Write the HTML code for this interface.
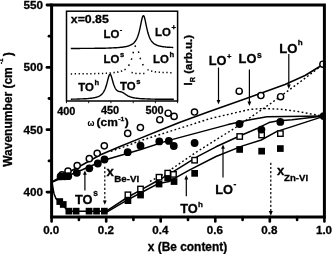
<!DOCTYPE html>
<html><head><meta charset="utf-8"><title>Wavenumber vs Be content</title>
<style>html,body{margin:0;padding:0;background:#fff}svg{display:block;filter:blur(0.4px)}text{font-family:"Liberation Sans",sans-serif;font-weight:bold;fill:#000;stroke:#000;stroke-width:0.3px}</style></head><body>
<svg width="332" height="254" viewBox="0 0 332 254">
<rect width="332" height="254" fill="#fff"/>
<clipPath id="pc"><rect x="51.6" y="5.0" width="274.0" height="212.0"/></clipPath>
<g clip-path="url(#pc)">
<path d="M52.0,182.0 L70.0,171.5 L83.0,164.5 L100.0,155.0 L120.0,146.5 L140.0,138.4 L160.0,130.2 L180.0,122.2 L208.0,112.0 L249.0,97.5 L285.0,84.5 L305.0,75.5 L323.0,64.5" fill="none" stroke="#000" stroke-width="1.5" stroke-linejoin="round"/>
<path d="M52.0,182.0 L76.0,172.5 L104.7,160.0 L140.0,149.8 L168.0,140.6 L228.0,124.6 L250.0,119.8 L267.0,116.8 L323.5,116.0" fill="none" stroke="#000" stroke-width="1.5" stroke-linejoin="round"/>
<path d="M105.5,211.3 L107.5,210.4 L128.0,197.0 L140.5,190.2 L158.8,180.0 L170.0,173.6 L176.6,169.6 L198.3,156.2 L216.0,146.8 L239.6,136.0 L257.7,128.2 L264.9,124.6 L269.0,122.6 L277.0,121.0 L292.0,119.8 L323.5,116.0" fill="none" stroke="#000" stroke-width="1.5" stroke-linejoin="round"/>
<path d="M105.5,212.0 L107.5,211.6 L128.0,199.6 L140.5,193.0 L158.8,183.4 L169.3,181.4 L181.2,174.7 L189.3,170.2 L216.0,156.5 L242.6,145.9 L261.3,140.0 L277.0,131.4 L292.0,126.6 L323.5,116.4" fill="none" stroke="#000" stroke-width="1.5" stroke-linejoin="round"/>
<path d="M52.0,182.0 L52.9,188.0 L54.1,194.0 L56.0,198.6 L59.7,202.0 L63.5,205.5 L66.0,209.0 L69.0,211.2 L107.0,211.3" fill="none" stroke="#000" stroke-width="1.5" stroke-linejoin="round"/>
<path d="M110.8,151.4 L125.0,146.5 L140.0,140.8 L160.0,134.5 L180.0,128.2 L210.0,118.6 L250.0,109.4 L264.0,108.5 L280.0,109.2 L296.9,111.3 L312.3,114.2 L323.0,116.0" fill="none" stroke="#000" stroke-width="1.4" stroke-dasharray="1.8 2.4"/>
<path d="M150.0,181.4 L165.0,173.5 L196.0,152.3 L234.5,128.3 L270.0,104.0 L300.0,82.0 L322.5,65.0" fill="none" stroke="#000" stroke-width="1.4" stroke-dasharray="1.8 2.4"/>
<rect x="56.4" y="198.2" width="6.7" height="6.7" fill="#000"/>
<rect x="59.9" y="201.1" width="6.7" height="6.7" fill="#000"/>
<rect x="65.5" y="207.8" width="6.7" height="6.7" fill="#000"/>
<rect x="72.8" y="207.8" width="6.7" height="6.7" fill="#000"/>
<rect x="85.7" y="207.8" width="6.7" height="6.7" fill="#000"/>
<rect x="93.2" y="207.8" width="6.7" height="6.7" fill="#000"/>
<rect x="101.0" y="207.8" width="6.7" height="6.7" fill="#000"/>
<rect x="124.6" y="197.3" width="6.7" height="6.7" fill="#000"/>
<rect x="137.2" y="191.7" width="6.7" height="6.7" fill="#000"/>
<rect x="155.7" y="180.7" width="6.7" height="6.7" fill="#000"/>
<rect x="164.3" y="174.5" width="6.7" height="6.7" fill="#000"/>
<rect x="170.7" y="178.2" width="6.7" height="6.7" fill="#000"/>
<rect x="191.3" y="170.0" width="6.7" height="6.7" fill="#000"/>
<rect x="236.3" y="146.1" width="6.7" height="6.7" fill="#000"/>
<rect x="258.3" y="147.8" width="6.7" height="6.7" fill="#000"/>
<rect x="277.0" y="145.2" width="6.7" height="6.7" fill="#000"/>
<rect x="125.2" y="192.1" width="5.4" height="5.4" fill="#fff" stroke="#000" stroke-width="1.4"/>
<rect x="137.8" y="186.3" width="5.4" height="5.4" fill="#fff" stroke="#000" stroke-width="1.4"/>
<rect x="156.3" y="174.5" width="5.4" height="5.4" fill="#fff" stroke="#000" stroke-width="1.4"/>
<rect x="165.0" y="170.4" width="5.4" height="5.4" fill="#fff" stroke="#000" stroke-width="1.4"/>
<rect x="170.8" y="171.7" width="5.4" height="5.4" fill="#fff" stroke="#000" stroke-width="1.4"/>
<rect x="191.9" y="157.5" width="5.4" height="5.4" fill="#fff" stroke="#000" stroke-width="1.4"/>
<rect x="237.0" y="133.8" width="5.4" height="5.4" fill="#fff" stroke="#000" stroke-width="1.4"/>
<rect x="258.9" y="132.3" width="5.4" height="5.4" fill="#fff" stroke="#000" stroke-width="1.4"/>
<rect x="277.7" y="130.9" width="5.4" height="5.4" fill="#fff" stroke="#000" stroke-width="1.4"/>
<circle cx="62.0" cy="174.8" r="3.1" fill="#fff" stroke="#000" stroke-width="1.45"/>
<circle cx="68.0" cy="171.0" r="3.1" fill="#fff" stroke="#000" stroke-width="1.45"/>
<circle cx="77.2" cy="165.6" r="3.1" fill="#fff" stroke="#000" stroke-width="1.45"/>
<circle cx="89.3" cy="158.7" r="3.1" fill="#fff" stroke="#000" stroke-width="1.45"/>
<circle cx="97.2" cy="153.3" r="3.1" fill="#fff" stroke="#000" stroke-width="1.45"/>
<circle cx="104.3" cy="145.8" r="3.1" fill="#fff" stroke="#000" stroke-width="1.45"/>
<circle cx="127.7" cy="133.4" r="3.1" fill="#fff" stroke="#000" stroke-width="1.45"/>
<circle cx="140.4" cy="127.5" r="3.1" fill="#fff" stroke="#000" stroke-width="1.45"/>
<circle cx="159.8" cy="119.7" r="3.1" fill="#fff" stroke="#000" stroke-width="1.45"/>
<circle cx="168.2" cy="113.2" r="3.1" fill="#fff" stroke="#000" stroke-width="1.45"/>
<circle cx="174.1" cy="116.4" r="3.1" fill="#fff" stroke="#000" stroke-width="1.45"/>
<circle cx="194.5" cy="112.0" r="3.1" fill="#fff" stroke="#000" stroke-width="1.45"/>
<circle cx="239.2" cy="91.2" r="3.1" fill="#fff" stroke="#000" stroke-width="1.45"/>
<circle cx="260.9" cy="95.5" r="3.1" fill="#fff" stroke="#000" stroke-width="1.45"/>
<circle cx="280.6" cy="96.7" r="3.1" fill="#fff" stroke="#000" stroke-width="1.45"/>
<circle cx="322.9" cy="64.2" r="3.1" fill="#fff" stroke="#000" stroke-width="1.45"/>
<circle cx="60.6" cy="176.4" r="3.9" fill="#000"/>
<circle cx="64.5" cy="176.3" r="3.9" fill="#000"/>
<circle cx="68.2" cy="176.2" r="3.9" fill="#000"/>
<circle cx="76.8" cy="172.8" r="3.9" fill="#000"/>
<circle cx="89.3" cy="168.3" r="3.9" fill="#000"/>
<circle cx="97.8" cy="163.5" r="3.9" fill="#000"/>
<circle cx="104.5" cy="159.5" r="3.9" fill="#000"/>
<circle cx="127.7" cy="152.2" r="3.9" fill="#000"/>
<circle cx="140.5" cy="145.7" r="3.9" fill="#000"/>
<circle cx="159.3" cy="141.4" r="3.9" fill="#000"/>
<circle cx="168.8" cy="140.9" r="3.9" fill="#000"/>
<circle cx="173.8" cy="146.0" r="3.9" fill="#000"/>
<circle cx="194.6" cy="143.0" r="3.9" fill="#000"/>
<circle cx="239.5" cy="124.0" r="3.9" fill="#000"/>
<circle cx="261.4" cy="129.6" r="3.9" fill="#000"/>
<circle cx="280.3" cy="121.9" r="3.9" fill="#000"/>
<circle cx="323.6" cy="116.1" r="3.9" fill="#000"/>
</g>
<line x1="218.5" y1="67.5" x2="218.5" y2="101.7" stroke="#000" stroke-width="1.2"/>
<path d="M216.6,99.9 L218.5,104.3 L220.4,99.9 Z" fill="#000"/>
<line x1="249.4" y1="69.5" x2="249.4" y2="103.4" stroke="#000" stroke-width="1.2"/>
<path d="M247.5,101.6 L249.4,106.0 L251.3,101.6 Z" fill="#000"/>
<line x1="288.8" y1="54" x2="288.8" y2="86.4" stroke="#000" stroke-width="1.2"/>
<path d="M286.9,84.6 L288.8,89.0 L290.7,84.6 Z" fill="#000"/>
<line x1="223.0" y1="177.5" x2="223.0" y2="147.0" stroke="#000" stroke-width="1.2"/>
<path d="M221.1,148.8 L223.0,144.4 L224.9,148.8 Z" fill="#000"/>
<line x1="186.3" y1="196.3" x2="186.3" y2="177.6" stroke="#000" stroke-width="1.2"/>
<path d="M184.4,179.4 L186.3,175.0 L188.2,179.4 Z" fill="#000"/>
<line x1="84.9" y1="190.4" x2="84.9" y2="173.0" stroke="#000" stroke-width="1.2"/>
<path d="M83.0,174.8 L84.9,170.4 L86.8,174.8 Z" fill="#000"/>
<line x1="104.8" y1="166.8" x2="104.8" y2="202.2" stroke="#000" stroke-width="1.2" stroke-dasharray="2.2 2.0"/>
<path d="M102.9,200.4 L104.8,204.8 L106.7,200.4 Z" fill="#000"/>
<line x1="270.8" y1="162.7" x2="270.8" y2="212.9" stroke="#000" stroke-width="1.2" stroke-dasharray="2.2 2.0"/>
<path d="M268.8,211.0 L270.8,215.8 L272.8,211.0 Z" fill="#000"/>
<rect x="51.6" y="5.0" width="272.79999999999995" height="212.0" fill="none" stroke="#000" stroke-width="3.0"/>
<line x1="47.0" y1="192.1" x2="51.6" y2="192.1" stroke="#000" stroke-width="2.8" stroke-linecap="round"/>
<line x1="49.0" y1="160.9" x2="51.6" y2="160.9" stroke="#000" stroke-width="2.8" stroke-linecap="round"/>
<line x1="47.0" y1="129.7" x2="51.6" y2="129.7" stroke="#000" stroke-width="2.8" stroke-linecap="round"/>
<line x1="49.0" y1="98.5" x2="51.6" y2="98.5" stroke="#000" stroke-width="2.8" stroke-linecap="round"/>
<line x1="47.0" y1="67.4" x2="51.6" y2="67.4" stroke="#000" stroke-width="2.8" stroke-linecap="round"/>
<line x1="49.0" y1="36.2" x2="51.6" y2="36.2" stroke="#000" stroke-width="2.8" stroke-linecap="round"/>
<line x1="47.0" y1="5.0" x2="51.6" y2="5.0" stroke="#000" stroke-width="2.8" stroke-linecap="round"/>
<line x1="51.6" y1="217.0" x2="51.6" y2="221.4" stroke="#000" stroke-width="2.6" stroke-linecap="round"/>
<line x1="78.9" y1="217.0" x2="78.9" y2="220.0" stroke="#000" stroke-width="2.6" stroke-linecap="round"/>
<line x1="106.2" y1="217.0" x2="106.2" y2="221.4" stroke="#000" stroke-width="2.6" stroke-linecap="round"/>
<line x1="133.4" y1="217.0" x2="133.4" y2="220.0" stroke="#000" stroke-width="2.6" stroke-linecap="round"/>
<line x1="160.7" y1="217.0" x2="160.7" y2="221.4" stroke="#000" stroke-width="2.6" stroke-linecap="round"/>
<line x1="188.0" y1="217.0" x2="188.0" y2="220.0" stroke="#000" stroke-width="2.6" stroke-linecap="round"/>
<line x1="215.3" y1="217.0" x2="215.3" y2="221.4" stroke="#000" stroke-width="2.6" stroke-linecap="round"/>
<line x1="242.6" y1="217.0" x2="242.6" y2="220.0" stroke="#000" stroke-width="2.6" stroke-linecap="round"/>
<line x1="269.8" y1="217.0" x2="269.8" y2="221.4" stroke="#000" stroke-width="2.6" stroke-linecap="round"/>
<line x1="297.1" y1="217.0" x2="297.1" y2="220.0" stroke="#000" stroke-width="2.6" stroke-linecap="round"/>
<line x1="324.4" y1="217.0" x2="324.4" y2="221.4" stroke="#000" stroke-width="2.6" stroke-linecap="round"/>
<text x="43.1" y="196.0" font-size="11.7" text-anchor="end">400</text>
<text x="43.1" y="133.6" font-size="11.7" text-anchor="end">450</text>
<text x="43.1" y="71.3" font-size="11.7" text-anchor="end">500</text>
<text x="43.1" y="8.9" font-size="11.7" text-anchor="end">550</text>
<text x="51.2" y="233.9" font-size="11.6" text-anchor="middle">0.0</text>
<text x="105.8" y="233.9" font-size="11.6" text-anchor="middle">0.2</text>
<text x="160.3" y="233.9" font-size="11.6" text-anchor="middle">0.4</text>
<text x="214.9" y="233.9" font-size="11.6" text-anchor="middle">0.6</text>
<text x="269.4" y="233.9" font-size="11.6" text-anchor="middle">0.8</text>
<text x="324.0" y="233.9" font-size="11.6" text-anchor="middle">1.0</text>
<text x="187.5" y="251.0" font-size="11.9" text-anchor="middle">x (Be content)</text>
<text transform="translate(12.4,166.8) rotate(-90)" font-size="12">Wavenumber (cm<tspan font-size="6.4" dx="3.2" dy="-9.0">-1</tspan><tspan dx="2" dy="9.0">)</tspan></text>
<text x="208.8" y="64.7" font-size="12.8">LO<tspan font-size="7.6" dx="0.3" dy="-5.4">+</tspan></text>
<text x="238.6" y="63.2" font-size="12.8">LO<tspan font-size="8.5" dx="0.5" dy="-5.2">s</tspan></text>
<text x="279.3" y="52.6" font-size="13.1">LO<tspan font-size="8.0" dx="0.2" dy="-7.4">h</tspan></text>
<text x="215.3" y="194.0" font-size="12.8">LO<tspan font-size="8.5" dx="0.3" dy="-7.0">-</tspan></text>
<text x="180.2" y="213.2" font-size="12.8">TO<tspan font-size="8.0" dx="0.3" dy="-6.5">h</tspan></text>
<text x="75.0" y="203.5" font-size="12.8">TO<tspan font-size="8.3" dx="0.8" dy="-7.8">s</tspan></text>
<text transform="translate(106.6,176.2) scale(1.06,1)" font-size="12.4">x</text>
<text transform="translate(114.3,182.1) scale(1.05,1)" font-size="9.3">Be-VI</text>
<text transform="translate(277.0,175.4) scale(1.06,1)" font-size="12.4">x</text>
<text transform="translate(284.0,181.2) scale(1.04,1)" font-size="9.3">Zn-VI</text>
<rect x="66.5" y="11.2" width="111.1" height="89.8" fill="#fff" stroke="#000" stroke-width="1.5"/>
<line x1="66.5" y1="101.0" x2="66.5" y2="103.2" stroke="#000" stroke-width="0.9"/>
<line x1="88.7" y1="101.0" x2="88.7" y2="103.2" stroke="#000" stroke-width="0.9"/>
<line x1="110.9" y1="101.0" x2="110.9" y2="103.2" stroke="#000" stroke-width="0.9"/>
<line x1="133.2" y1="101.0" x2="133.2" y2="103.2" stroke="#000" stroke-width="0.9"/>
<line x1="155.4" y1="101.0" x2="155.4" y2="103.2" stroke="#000" stroke-width="0.9"/>
<line x1="177.6" y1="101.0" x2="177.6" y2="103.2" stroke="#000" stroke-width="0.9"/>
<path d="M70.8,48.5 L71.3,48.5 L71.8,48.5 L72.3,48.5 L72.8,48.5 L73.3,48.5 L73.8,48.5 L74.3,48.5 L74.8,48.5 L75.3,48.5 L75.8,48.5 L76.3,48.5 L76.8,48.5 L77.3,48.5 L77.8,48.5 L78.3,48.5 L78.8,48.5 L79.3,48.5 L79.8,48.5 L80.3,48.4 L80.8,48.4 L81.3,48.4 L81.8,48.4 L82.3,48.4 L82.8,48.4 L83.3,48.4 L83.8,48.4 L84.3,48.4 L84.8,48.4 L85.3,48.4 L85.8,48.4 L86.3,48.4 L86.8,48.4 L87.3,48.4 L87.8,48.4 L88.3,48.4 L88.8,48.4 L89.3,48.4 L89.8,48.4 L90.3,48.4 L90.8,48.4 L91.3,48.4 L91.8,48.4 L92.3,48.4 L92.8,48.4 L93.3,48.4 L93.8,48.4 L94.3,48.4 L94.8,48.3 L95.3,48.3 L95.8,48.3 L96.3,48.3 L96.8,48.3 L97.3,48.3 L97.8,48.3 L98.3,48.3 L98.8,48.3 L99.3,48.3 L99.8,48.3 L100.3,48.3 L100.8,48.3 L101.3,48.3 L101.8,48.2 L102.3,48.2 L102.8,48.2 L103.3,48.2 L103.8,48.2 L104.3,48.2 L104.8,48.2 L105.3,48.2 L105.8,48.1 L106.3,48.1 L106.8,48.1 L107.3,48.1 L107.8,48.1 L108.3,48.1 L108.8,48.0 L109.3,48.0 L109.8,48.0 L110.3,48.0 L110.8,48.0 L111.3,48.0 L111.8,47.9 L112.3,47.9 L112.8,47.9 L113.3,47.9 L113.8,47.8 L114.3,47.8 L114.8,47.8 L115.3,47.8 L115.8,47.7 L116.3,47.7 L116.8,47.7 L117.3,47.6 L117.8,47.6 L118.3,47.6 L118.8,47.5 L119.3,47.5 L119.8,47.4 L120.3,47.4 L120.8,47.3 L121.3,47.3 L121.8,47.2 L122.3,47.2 L122.8,47.1 L123.3,47.0 L123.8,47.0 L124.3,46.9 L124.8,46.8 L125.3,46.7 L125.8,46.6 L126.3,46.5 L126.8,46.4 L127.3,46.3 L127.8,46.1 L128.3,46.0 L128.8,45.8 L129.3,45.6 L129.8,45.4 L130.3,45.2 L130.8,45.0 L131.3,44.7 L131.8,44.4 L132.3,44.1 L132.8,43.8 L133.3,43.4 L133.8,42.9 L134.3,42.4 L134.8,41.8 L135.3,41.2 L135.8,40.4 L136.3,39.6 L136.8,38.6 L137.3,37.5 L137.8,36.2 L138.3,34.7 L138.8,33.1 L139.3,31.2 L139.8,29.1 L140.3,26.8 L140.8,24.3 L141.3,21.9 L141.8,19.5 L142.3,17.6 L142.8,16.2 L143.3,15.6 L143.8,15.8 L144.3,16.9 L144.8,18.7 L145.3,20.9 L145.8,23.3 L146.3,25.8 L146.8,28.1 L147.3,30.3 L147.8,32.3 L148.3,34.0 L148.8,35.6 L149.3,36.9 L149.8,38.1 L150.3,39.1 L150.8,40.0 L151.3,40.8 L151.8,41.5 L152.3,42.1 L152.8,42.6 L153.3,43.1 L153.8,43.5 L154.3,43.9 L154.8,44.2 L155.3,44.5 L155.8,44.7 L156.3,45.0 L156.8,45.2 L157.3,45.4 L157.8,45.6 L158.3,45.7 L158.8,45.9 L159.3,46.0 L159.8,46.1 L160.3,46.2 L160.8,46.3 L161.3,46.4 L161.8,46.5 L162.3,46.6 L162.8,46.7 L163.3,46.8 L163.8,46.8 L164.3,46.9 L164.8,46.9 L165.3,47.0 L165.8,47.0 L166.3,47.1 L166.8,47.1 L167.3,47.2 L167.8,47.2 L168.3,47.2 L168.8,47.3 L169.3,47.3 L169.8,47.3 L170.3,47.4 L170.8,47.4 L171.3,47.4 L171.8,47.4 L172.3,47.5 L172.8,47.5 L173.3,47.5" fill="none" stroke="#000" stroke-width="1.4" stroke-linejoin="round"/>
<path d="M70.8,73.9 L71.0,73.9 L71.3,73.9 L71.5,73.9 L71.8,73.9 L72.0,73.9 L72.3,73.9 L72.5,73.9 L72.8,73.9 L73.0,73.9 L73.3,73.8 L73.5,73.8 L73.8,73.8 L74.0,73.8 L74.3,73.8 L74.5,73.8 L74.8,73.8 L75.0,73.8 L75.3,73.8 L75.5,73.8 L75.8,73.8 L76.0,73.8 L76.3,73.8 L76.5,73.8 L76.8,73.8 L77.0,73.8 L77.3,73.8 L77.5,73.8 L77.8,73.8 L78.0,73.8 L78.3,73.8 L78.5,73.8 L78.8,73.8 L79.0,73.8 L79.3,73.8 L79.5,73.8 L79.8,73.8 L80.0,73.8 L80.3,73.8 L80.5,73.8 L80.8,73.8 L81.0,73.8 L81.3,73.8 L81.5,73.8 L81.8,73.8 L82.0,73.8 L82.3,73.8 L82.5,73.8 L82.8,73.8 L83.0,73.8 L83.3,73.8 L83.5,73.8 L83.8,73.8 L84.0,73.8 L84.3,73.8 L84.5,73.8 L84.8,73.8 L85.0,73.8 L85.3,73.8 L85.5,73.8 L85.8,73.8 L86.0,73.8 L86.3,73.8 L86.5,73.8 L86.8,73.8 L87.0,73.8 L87.3,73.8 L87.5,73.7 L87.8,73.7 L88.0,73.7 L88.3,73.7 L88.5,73.7 L88.8,73.7 L89.0,73.7 L89.3,73.7 L89.5,73.7 L89.8,73.7 L90.0,73.7 L90.3,73.7 L90.5,73.7 L90.8,73.7 L91.0,73.7 L91.3,73.7 L91.5,73.7 L91.8,73.7 L92.0,73.7 L92.3,73.7 L92.5,73.7 L92.8,73.7 L93.0,73.7 L93.3,73.7 L93.5,73.7 L93.8,73.7 L94.0,73.7 L94.3,73.7 L94.5,73.7 L94.8,73.7 L95.0,73.6 L95.3,73.6 L95.5,73.6 L95.8,73.6 L96.0,73.6 L96.3,73.6 L96.5,73.6 L96.8,73.6 L97.0,73.6 L97.3,73.6 L97.5,73.6 L97.8,73.6 L98.0,73.6 L98.3,73.6 L98.5,73.6 L98.8,73.6 L99.0,73.6 L99.3,73.6 L99.5,73.6 L99.8,73.6 L100.0,73.5 L100.3,73.5 L100.5,73.5 L100.8,73.5 L101.0,73.5 L101.3,73.5 L101.5,73.5 L101.8,73.5 L102.0,73.5 L102.3,73.5 L102.5,73.4 L102.8,73.4 L103.0,73.4 L103.3,73.4 L103.5,73.4 L103.8,73.4 L104.0,73.4 L104.3,73.4 L104.5,73.4 L104.8,73.3 L105.0,73.3 L105.3,73.3 L105.5,73.3 L105.8,73.3 L106.0,73.3 L106.3,73.3 L106.5,73.2 L106.8,73.2 L107.0,73.2 L107.3,73.2 L107.5,73.2 L107.8,73.2 L108.0,73.2 L108.3,73.1 L108.5,73.1 L108.8,73.1 L109.0,73.1 L109.3,73.1 L109.5,73.1 L109.8,73.0 L110.0,73.0 L110.3,73.0 L110.5,73.0 L110.8,73.0 L111.0,72.9 L111.3,72.9 L111.5,72.9 L111.8,72.9 L112.0,72.9 L112.3,72.8 L112.5,72.8 L112.8,72.8 L113.0,72.8 L113.3,72.7 L113.5,72.7 L113.8,72.7 L114.0,72.6 L114.3,72.6 L114.5,72.6 L114.8,72.6 L115.0,72.5 L115.3,72.5 L115.5,72.5 L115.8,72.4 L116.0,72.4 L116.3,72.3 L116.5,72.3 L116.8,72.3 L117.0,72.2 L117.3,72.2 L117.5,72.1 L117.8,72.1 L118.0,72.0 L118.3,72.0 L118.5,71.9 L118.8,71.9 L119.0,71.8 L119.3,71.8 L119.5,71.7 L119.8,71.7 L120.0,71.6 L120.3,71.5 L120.5,71.5 L120.8,71.4 L121.0,71.3 L121.3,71.2 L121.5,71.1 L121.8,71.1 L122.0,71.0 L122.3,70.9 L122.5,70.8 L122.8,70.7 L123.0,70.6 L123.3,70.4 L123.5,70.3 L123.8,70.2 L124.0,70.1 L124.3,69.9 L124.5,69.8 L124.8,69.6 L125.0,69.5 L125.3,69.3 L125.5,69.1 L125.8,68.9 L126.0,68.7 L126.3,68.5 L126.5,68.3 L126.8,68.0" fill="none" stroke="#000" stroke-width="1.5" stroke-dasharray="1.3 2.6"/>
<path d="M128.6,65.8 L128.8,65.4 L129.1,65.0 L129.3,64.5 L129.6,64.0 L129.8,63.5 L130.1,63.0 L130.3,62.4 L130.6,61.8 L130.8,61.1 L131.1,60.4 L131.3,59.7 L131.6,58.9 L131.8,58.1 L132.1,57.2 L132.3,56.3 L132.6,55.4 L132.8,54.4 L133.1,53.4 L133.3,52.4 L133.6,51.4 L133.8,50.4 L134.1,49.5 L134.3,48.6 L134.6,47.8 L134.8,47.0 L135.1,46.4 L135.3,45.9 L135.6,45.6 L135.8,45.4" fill="none" stroke="#000" stroke-width="1.5" stroke-dasharray="1.5 5.2"/>
<path d="M138.4,51.4 L138.7,52.4 L138.9,53.4 L139.2,54.3 L139.4,55.3 L139.7,56.2 L139.9,57.1 L140.2,58.0 L140.4,58.8 L140.7,59.6 L140.9,60.3 L141.2,61.0 L141.4,61.6 L141.7,62.3 L141.9,62.8 L142.2,63.4 L142.4,63.9 L142.7,64.4 L142.9,64.8 L143.2,65.2 L143.4,65.6 L143.7,66.0 L143.9,66.3 L144.2,66.7 L144.4,67.0 L144.7,67.2 L144.9,67.5 L145.2,67.8 L145.4,68.0 L145.7,68.2 L145.9,68.4 L146.2,68.6 L146.4,68.8" fill="none" stroke="#000" stroke-width="1.5" stroke-dasharray="1.5 5.2"/>
<path d="M147.5,69.5 L147.8,69.7 L148.0,69.8 L148.2,69.9 L148.5,70.1 L148.8,70.2 L149.0,70.3 L149.2,70.4 L149.5,70.5 L149.8,70.6 L150.0,70.7 L150.2,70.7 L150.5,70.8 L150.8,70.9 L151.0,71.0 L151.2,71.0 L151.5,71.1 L151.8,71.2 L152.0,71.2 L152.2,71.3 L152.5,71.3 L152.8,71.4 L153.0,71.4 L153.2,71.5 L153.5,71.5 L153.8,71.6 L154.0,71.6 L154.2,71.7 L154.5,71.7 L154.8,71.7 L155.0,71.8 L155.2,71.8 L155.5,71.8 L155.8,71.9 L156.0,71.9 L156.2,71.9 L156.5,72.0 L156.8,72.0 L157.0,72.0 L157.2,72.1 L157.5,72.1 L157.8,72.1 L158.0,72.1 L158.2,72.1 L158.5,72.2 L158.8,72.2 L159.0,72.2 L159.2,72.2 L159.5,72.2 L159.8,72.3 L160.0,72.3 L160.2,72.3 L160.5,72.3 L160.8,72.3 L161.0,72.3 L161.2,72.4 L161.5,72.4 L161.8,72.4 L162.0,72.4 L162.2,72.4 L162.5,72.4 L162.8,72.4 L163.0,72.4 L163.2,72.5 L163.5,72.5 L163.8,72.5 L164.0,72.5 L164.2,72.5 L164.5,72.5 L164.8,72.5 L165.0,72.5 L165.2,72.5 L165.5,72.5 L165.8,72.6 L166.0,72.6 L166.2,72.6 L166.5,72.6 L166.8,72.6 L167.0,72.6 L167.2,72.6 L167.5,72.6 L167.8,72.6 L168.0,72.6 L168.2,72.6 L168.5,72.6 L168.8,72.6 L169.0,72.6 L169.2,72.6 L169.5,72.6 L169.8,72.6 L170.0,72.7 L170.2,72.7 L170.5,72.7 L170.8,72.7 L171.0,72.7 L171.2,72.7 L171.5,72.7 L171.8,72.7 L172.0,72.7 L172.2,72.7 L172.5,72.7" fill="none" stroke="#000" stroke-width="1.5" stroke-dasharray="1.3 2.6"/>
<path d="M131.5,72.6 L136.0,73.4 L146.0,73.6" fill="none" stroke="#000" stroke-width="1.5" stroke-dasharray="1.3 2.6"/>
<path d="M70.8,99.2 L71.3,99.2 L71.8,99.2 L72.3,99.1 L72.8,99.1 L73.3,99.1 L73.8,99.1 L74.3,99.1 L74.8,99.1 L75.3,99.1 L75.8,99.1 L76.3,99.1 L76.8,99.1 L77.3,99.0 L77.8,99.0 L78.3,99.0 L78.8,99.0 L79.3,99.0 L79.8,99.0 L80.3,98.9 L80.8,98.9 L81.3,98.9 L81.8,98.9 L82.3,98.9 L82.8,98.9 L83.3,98.8 L83.8,98.8 L84.3,98.8 L84.8,98.8 L85.3,98.7 L85.8,98.7 L86.3,98.7 L86.8,98.6 L87.3,98.6 L87.8,98.6 L88.3,98.5 L88.8,98.5 L89.3,98.4 L89.8,98.4 L90.3,98.3 L90.8,98.3 L91.3,98.2 L91.8,98.1 L92.3,98.1 L92.8,98.0 L93.3,97.9 L93.8,97.8 L94.3,97.7 L94.8,97.6 L95.3,97.5 L95.8,97.4 L96.3,97.3 L96.8,97.1 L97.3,96.9 L97.8,96.8 L98.3,96.6 L98.8,96.3 L99.3,96.1 L99.8,95.8 L100.3,95.5 L100.8,95.1 L101.3,94.7 L101.8,94.3 L102.3,93.7 L102.8,93.1 L103.3,92.4 L103.8,91.6 L104.3,90.7 L104.8,89.7 L105.3,88.5 L105.8,87.1 L106.3,85.5 L106.8,83.8 L107.3,81.9 L107.8,79.9 L108.3,78.0 L108.8,76.3 L109.3,75.0 L109.8,74.3 L110.3,74.3 L110.8,75.0 L111.3,76.3 L111.8,77.9 L112.3,79.7 L112.8,81.5 L113.3,83.2 L113.8,84.8 L114.3,86.1 L114.8,87.3 L115.3,88.3 L115.8,89.1 L116.3,89.7 L116.8,90.3 L117.3,90.7 L117.8,91.0 L118.3,91.3 L118.8,91.4 L119.3,91.6 L119.8,91.6 L120.3,91.7 L120.8,91.8 L121.3,91.9 L121.8,92.1 L122.3,92.3 L122.8,92.5 L123.3,92.8 L123.8,93.1 L124.3,93.5 L124.8,93.8 L125.3,94.2 L125.8,94.5 L126.3,94.9 L126.8,95.2 L127.3,95.5 L127.8,95.8 L128.3,96.1 L128.8,96.3 L129.3,96.5 L129.8,96.7 L130.3,96.9 L130.8,97.1 L131.3,97.2 L131.8,97.4 L132.3,97.5 L132.8,97.6 L133.3,97.7 L133.8,97.8 L134.3,97.9 L134.8,98.0 L135.3,98.1 L135.8,98.1 L136.3,98.2 L136.8,98.3 L137.3,98.3 L137.8,98.4 L138.3,98.4 L138.8,98.5 L139.3,98.5 L139.8,98.6 L140.3,98.6 L140.8,98.6 L141.3,98.7 L141.8,98.7 L142.3,98.7 L142.8,98.8 L143.3,98.8 L143.8,98.8 L144.3,98.8 L144.8,98.9 L145.3,98.9 L145.8,98.9 L146.3,98.9 L146.8,98.9 L147.3,99.0 L147.8,99.0 L148.3,99.0 L148.8,99.0 L149.3,99.0 L149.8,99.0 L150.3,99.0 L150.8,99.1 L151.3,99.1 L151.8,99.1 L152.3,99.1 L152.8,99.1 L153.3,99.1 L153.8,99.1 L154.3,99.1 L154.8,99.1 L155.3,99.2 L155.8,99.2 L156.3,99.2 L156.8,99.2 L157.3,99.2 L157.8,99.2 L158.3,99.2 L158.8,99.2 L159.3,99.2 L159.8,99.2 L160.3,99.2 L160.8,99.2 L161.3,99.2 L161.8,99.2 L162.3,99.2 L162.8,99.3 L163.3,99.3 L163.8,99.3 L164.3,99.3 L164.8,99.3 L165.3,99.3 L165.8,99.3 L166.3,99.3 L166.8,99.3 L167.3,99.3 L167.8,99.3 L168.3,99.3 L168.8,99.3 L169.3,99.3 L169.8,99.3 L170.3,99.3 L170.8,99.3 L171.3,99.3 L171.8,99.3 L172.3,99.3 L172.8,99.3 L173.3,99.3 L173.8,99.3" fill="none" stroke="#000" stroke-width="1.4" stroke-linejoin="round"/>
<text transform="translate(70.8,23.2) scale(1.1,1)" font-size="11.2">x=0.85</text>
<text x="103.6" y="38.0" font-size="11.4">LO<tspan font-size="7.6" dx="0.3" dy="-6.3">-</tspan></text>
<text x="155.0" y="36.2" font-size="11.4">LO<tspan font-size="7.6" dx="0.6" dy="-6.6">+</tspan></text>
<text x="103.6" y="63.1" font-size="11.4">LO<tspan font-size="7.6" dx="0.6" dy="-6.6">s</tspan></text>
<text x="153.0" y="63.1" font-size="11.4">LO<tspan font-size="7.6" dx="0.6" dy="-6.6">h</tspan></text>
<text x="78.3" y="90.8" font-size="11.4">TO<tspan font-size="7.6" dx="0.6" dy="-6.0">h</tspan></text>
<text x="120" y="89.5" font-size="11.4">TO<tspan font-size="7.6" dx="0.6" dy="-6.0">s</tspan></text>
<text x="66.3" y="114.7" font-size="10.9" text-anchor="middle">400</text>
<text x="110.1" y="114.2" font-size="10.9" text-anchor="middle">450</text>
<text x="154.5" y="113.8" font-size="10.9" text-anchor="middle">500</text>
<text x="87.6" y="125.9" font-size="8.2" style="stroke-width:0.1px">ω</text>
<text transform="translate(96.6,126.0) scale(1.09,1)" font-size="11">(cm<tspan font-size="6.2" dx="0.4" dy="-5.0">-1</tspan><tspan dx="0.4" dy="5.0">)</tspan></text>
<text transform="translate(191.7,85.4) rotate(-90) scale(1.07,1)" font-size="10.7">I<tspan font-size="6.8" dy="3.6">R</tspan><tspan dy="-3.6"> (arb.u.)</tspan></text>
</svg></body></html>
